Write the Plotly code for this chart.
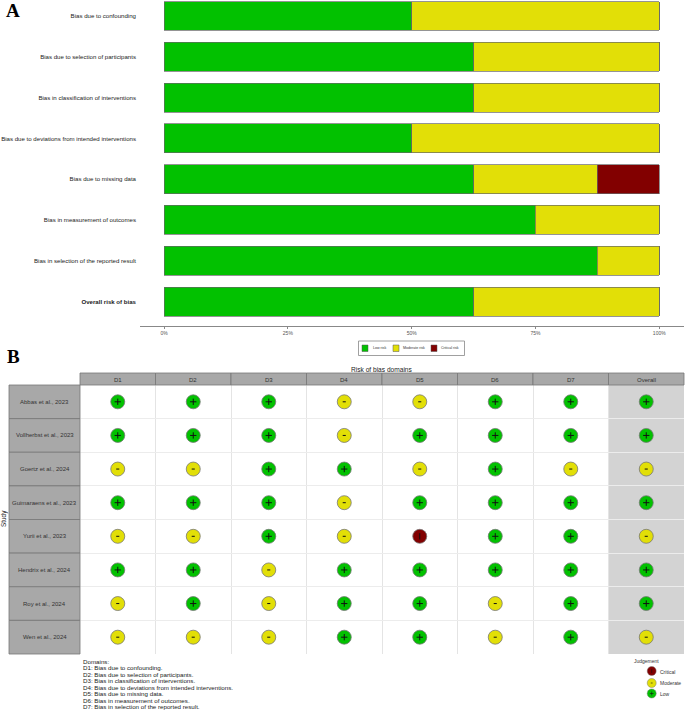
import plotly.graph_objects as go

W, H = 685, 711
LOW, MOD, CRIT = "#02C100", "#E2DF07", "#820000"
STRIP = "#a8a8a8"
EDGE = "#777777"
FONT = "Liberation Sans"

# panel A
domains = ["Bias due to confounding", "Bias due to selection of participants",
           "Bias in classification of interventions", "Bias due to deviations from intended interventions",
           "Bias due to missing data", "Bias in measurement of outcomes",
           "Bias in selection of the reported result", "<b>Overall risk of bias</b>"]
low_pct = [50, 62.5, 62.5, 50, 62.5, 75, 87.5, 62.5]
mod_pct = [50, 37.5, 37.5, 50, 25, 25, 12.5, 37.5]
crit_pct = [0, 0, 0, 0, 12.5, 0, 0, 0]
pct_ticks = [0, 25, 50, 75, 100]

# panel B
studies = ["Abbas et al., 2023", "Vollherbst et al., 2023", "Goertz et al., 2024", "Guimaraens et al., 2023",
           "Yurii et al., 2023", "Hendrix et al., 2024", "Roy et al., 2024", "Wen et al., 2024"]
columns = ["D1", "D2", "D3", "D4", "D5", "D6", "D7", "Overall"]
judgements = [
    ["+", "+", "+", "-", "-", "+", "+", "+"],
    ["+", "+", "+", "-", "+", "+", "+", "+"],
    ["-", "-", "+", "+", "-", "+", "-", "-"],
    ["+", "+", "+", "-", "+", "+", "+", "+"],
    ["-", "-", "+", "-", "!", "+", "+", "-"],
    ["+", "+", "-", "+", "+", "+", "+", "+"],
    ["-", "+", "-", "+", "+", "-", "+", "+"],
    ["-", "-", "-", "+", "+", "-", "+", "-"],
]
domain_notes = ["Domains:", "D1: Bias due to confounding.", "D2: Bias due to selection of participants.",
                "D3: Bias in classification of interventions.", "D4: Bias due to deviations from intended interventions.",
                "D5: Bias due to missing data.", "D6: Bias in measurement of outcomes.",
                "D7: Bias in selection of the reported result."]
mark_colors = {"+": LOW, "-": MOD, "!": CRIT}
glyphs = {"+": ("cross-thin", 4.5), "-": ("line-ew", 2.2), "!": ("line-ns", 4.5)}


def fx(px):
    return px / W


def fy(px):
    return 1 - px / H


def add_marks(xs, ys, mark, size, scale, xaxis, yaxis):
    # filled circle, then the judgement glyph on top of it so it stays centred
    fig.add_trace(go.Scatter(x=xs, y=ys, mode="markers", xaxis=xaxis, yaxis=yaxis,
                             marker=dict(color=mark_colors[mark], size=size, line=dict(color="#777777", width=0.8 * scale))))
    symbol, glyph_size = glyphs[mark]
    fig.add_trace(go.Scatter(x=xs, y=ys, mode="markers", xaxis=xaxis, yaxis=yaxis,
                             marker=dict(symbol=symbol, size=glyph_size * scale, color="#111111",
                                         line=dict(color="#111111", width=1 * scale))))


fig = go.Figure()

for name, vals, col in [("Low risk", low_pct, LOW), ("Moderate risk", mod_pct, MOD), ("Critical risk", crit_pct, CRIT)]:
    fig.add_trace(go.Bar(x=vals, y=domains, orientation="h", name=name, xaxis="x", yaxis="y",
                         marker=dict(color=col, line=dict(color="#666666", width=0.7))))

for mark in mark_colors:
    xs, ys = [], []
    for study, row in zip(studies, judgements):
        for c, j in zip(columns, row):
            if j == mark:
                xs.append(c)
                ys.append(study)
    add_marks(xs, ys, mark, 14, 1, "x2", "y2")

# judgement legend, drawn on a hidden pixel axis
for mark, py in [("!", 671), ("-", 683), ("+", 693.5)]:
    add_marks([651.7], [py], mark, 9, 0.6, "x3", "y3")

shapes = []
annotations = []


def text(x, y, s, size, color="#222222", anchor="center", **kw):
    if anchor == "left":
        x -= 2  # annotation box padding
    annotations.append(dict(x=fx(x), y=fy(y), xref="paper", yref="paper", text=s, showarrow=False, xanchor=anchor,
                            yanchor="middle", font=dict(family=kw.pop("family", FONT), size=size, color=color), **kw))


def rect(x0, y0, x1, y1, fill, line=EDGE, width=0.8):
    shapes.append(dict(type="rect", xref="paper", yref="paper", x0=fx(x0), x1=fx(x1), y0=fy(y0), y1=fy(y1),
                       fillcolor=fill, line=dict(color=line, width=width), layer="above"))


text(13, 10, "<b>A</b>", 19, "#000000", family="Liberation Serif")
text(13, 356, "<b>B</b>", 19, "#000000", family="Liberation Serif")

# panel A legend
rect(358.5, 341, 464.5, 355.5, "#ffffff", line="#888888", width=0.8)
for px, col, s, tx in [(362, LOW, "Low risk", 373), (393, MOD, "Moderate risk", 403), (431, CRIT, "Critical risk", 441)]:
    rect(px, 345, px + 6, 351.5, col, line="#555555", width=0.5)
    text(tx, 348, s, 3.6, "#333333", anchor="left")

# panel B strips
col_w = (684 - 80) / len(columns)
row_h = (654 - 385) / len(studies)
for i, c in enumerate(columns):
    rect(80 + i * col_w, 373, 80 + (i + 1) * col_w, 385, STRIP)
    text(80 + (i + 0.5) * col_w, 379.5, c, 6, "#333333")
for i, s in enumerate(studies):
    rect(9, 385 + i * row_h, 80, 385 + (i + 1) * row_h, STRIP)
    text(44.5, 385 + (i + 0.5) * row_h, s, 6, "#333333")

shapes.append(dict(type="rect", xref="x2", yref="y2", x0=6.5, x1=7.5, y0=-0.5, y1=7.5, fillcolor="#d3d3d3",
                   line=dict(width=0), layer="below"))

text(381.5, 369, "Risk of bias domains", 6.6, "#222222")
text(4, 519, "Study", 6.4, "#222222", textangle=-90)
for i, line in enumerate(domain_notes):
    text(83, 661 + i * 6.5, line, 6.2, "#222222", anchor="left")
text(646, 660.5, "Judgement", 5, "#333333")
for label, py in [("Critical", 671.5), ("Moderate", 683), ("Low", 693.5)]:
    text(660, py, label, 5, "#333333", anchor="left")

fig.update_layout(
    width=W, height=H, margin=dict(l=0, r=0, t=0, b=0), paper_bgcolor="white", plot_bgcolor="rgba(0,0,0,0)",
    barmode="stack", bargap=0.29, showlegend=False, shapes=shapes, annotations=annotations,
    xaxis=dict(domain=[fx(140), fx(684)], anchor="y", range=[-4.85, 105], tickvals=pct_ticks,
               ticktext=[f"{t}%" for t in pct_ticks], ticks="outside", ticklen=2, tickcolor="#888888",
               tickfont=dict(family=FONT, size=5, color="#555555"), showgrid=False, zeroline=False,
               showline=True, linecolor="#888888", linewidth=1),
    yaxis=dict(domain=[fy(326), fy(0)], anchor="x", range=[7.6, -0.392], showgrid=False, zeroline=False,
               showline=False, ticks="", ticklabelstandoff=3, tickfont=dict(family=FONT, size=6.1, color="#222222")),
    xaxis2=dict(domain=[fx(80), fx(684)], anchor="y2", type="category", categoryorder="array", categoryarray=columns,
                range=[-0.5, 7.5], tickson="boundaries", showticklabels=False, ticks="", showgrid=True,
                gridcolor="#e4e4e4", gridwidth=1, zeroline=False),
    yaxis2=dict(domain=[fy(654), fy(385)], anchor="x2", type="category", categoryorder="array", categoryarray=studies,
                range=[7.5, -0.5], tickson="boundaries", showticklabels=False, ticks="", showgrid=True,
                gridcolor="#ececec", gridwidth=1, zeroline=False),
    xaxis3=dict(domain=[0, 1], anchor="y3", range=[0, W], visible=False),
    yaxis3=dict(domain=[0, 1], anchor="x3", range=[H, 0], visible=False),
)

fig.write_html("out.html", config={"displayModeBar": False}, post_script="document.body.style.margin='0';")
